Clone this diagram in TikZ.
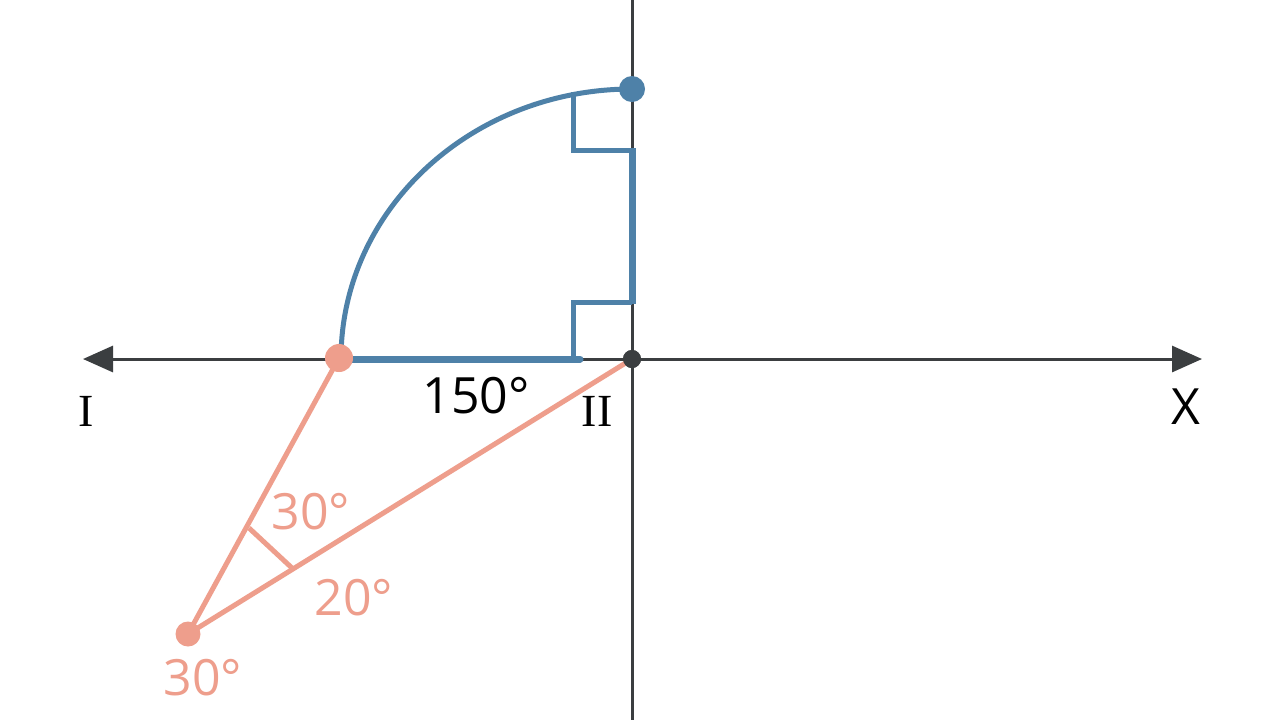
\documentclass[tikz,border=0pt]{standalone}
\usepackage{fontspec}
\setmainfont{Open Sans}
\newfontfamily\seriffont{Liberation Serif}
\usetikzlibrary{arrows.meta}
\definecolor{axisc}{HTML}{3B3E40}
\definecolor{bluec}{HTML}{4E81A8}
\definecolor{pinkc}{HTML}{EE9E8C}
\tikzset{
  axisline/.style={draw=axisc, line width=1.5pt},
  bluethin/.style={draw=bluec, line width=2.5pt},
  bluethick/.style={draw=bluec, line width=3.5pt},
  pinkline/.style={draw=pinkc, line width=2.5pt},
  dotnode/.style={circle, inner sep=0pt, minimum size=#1},
  lbl/.style={font=\fontsize{25}{29}\selectfont, inner sep=0pt},
  romanlbl/.style={font=\seriffont\fontsize{23}{28}\selectfont, inner sep=0pt},
}
\begin{document}
\begin{tikzpicture}[x=0.5pt,y=-0.5pt]
\useasboundingbox (0,0) rectangle (1280,720);
\fill[white] (0,0) rectangle (1280,720);
% axes
\coordinate (L) at (83,359);
\coordinate (R) at (1202,359);
\coordinate (T) at (632,0);
\coordinate (B) at (632,720);
\draw[axisline, -{Triangle[length=15pt,width=13pt]}] (632,359) -- (L);
\draw[axisline, -{Triangle[length=15pt,width=13pt]}] (632,359) -- (R);
\draw[axisline] (T) -- (B);
% blue figure
\coordinate (bend) at (580,359);
\coordinate (q1) at (573,359);
\coordinate (q2) at (573,302);
\coordinate (q3) at (632,302);
\coordinate (q4) at (632,150);
\coordinate (q5) at (573,150);
\coordinate (q6) at (573,92);
\draw[bluethin] (341,359) arc[start angle=180, end angle=90, x radius=291, y radius=-270];
\draw[bluethick, line cap=round] (339,359) -- (bend);
\draw[bluethin] (q1) -- (q2) -- (q3);
\draw[bluethick] (632,304) -- (632,148);
\draw[bluethin] (q4) -- (q5) -- (q6);
% pink figure
\node[dotnode=9pt, fill=axisc] (O) at (632,359) {};
\node[dotnode=12.5pt, fill=pinkc] (P) at (188,634) {};
\draw[pinkline] (339,358) -- (P.center);
\draw[pinkline] (O.center) -- (P.center);
\coordinate (t1) at (249,528);
\coordinate (t2) at (292,568);
\draw[pinkline] (t1) -- (t2);
\node[dotnode=14pt, fill=pinkc] (A) at (339,358) {};
\node[dotnode=13pt, fill=bluec] (Top) at (632,89) {};
\node[dotnode=9pt, fill=axisc] at (632,359) {};
% labels
\node[lbl, text=black] at (476,396) {150°};
\node[romanlbl, text=black] at (597,411) {II};
\node[romanlbl, text=black] at (86,411) {I};
\node[lbl, text=black] at (1186,407) {X};
\node[lbl, text=pinkc] at (311,512) {30°};
\node[lbl, text=pinkc] at (354,598) {20°};
\node[lbl, text=pinkc] at (203,678) {30°};
\end{tikzpicture}
\end{document}
